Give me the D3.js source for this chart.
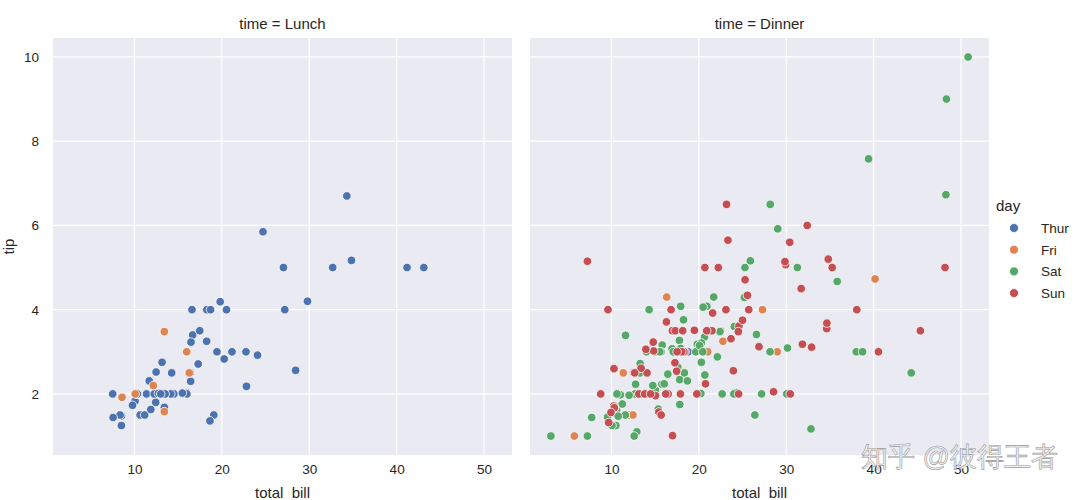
<!DOCTYPE html>
<html><head><meta charset="utf-8">
<script src="https://cdn.jsdelivr.net/npm/d3@7"></script>
<style>body{margin:0;background:#fff}text{font-family:"Liberation Sans",Arial,sans-serif}</style>
</head><body><svg id="c" width="1086" height="500"></svg>
<script>
const days = ["Thur","Fri","Sat","Sun"];
const colors = ["#4C72B0","#DD8452","#55A868","#C44E52"];
const xTicks = [10,20,30,40,50];
const yTicks = [2,4,6,8,10];
// Lunch
const lunchThurBill = [27.20,22.76,17.29,19.44,16.66,10.07,32.68,15.98,34.83,13.03,18.28,24.71,21.16,10.65,12.43,24.08,11.69,13.42,14.26,15.95,12.48,29.80,8.52,14.52,11.38,22.82,19.08,20.27,11.17,12.26,18.26,8.51,10.33,14.15,16.0,13.16,17.47,34.30,41.19,27.05,16.43,8.35,18.64,11.87,9.78,7.51,19.81,28.44,15.48,16.58,7.56,10.34,43.11,13.0,13.51,18.71,12.74,13.0,16.40,20.53,16.47];
const lunchThurTip = [4.0,3.0,2.71,3.0,3.4,1.83,5.0,2.03,5.17,2.0,4.0,5.85,3.0,1.5,1.8,2.92,2.31,1.68,2.5,2.0,2.52,4.2,1.48,2.0,2.0,2.18,1.5,2.83,1.5,2.0,3.25,1.25,2.0,2.0,2.0,2.75,3.5,6.7,5.0,5.0,2.3,1.5,1.36,1.63,1.73,2.0,4.19,2.56,2.02,4.0,1.44,2.0,5.0,2.0,2.0,4.0,2.01,2.0,2.5,4.0,3.23];
const lunchFriBill = [12.16,13.42,8.58,15.98,13.42,16.27,10.09];
const lunchFriTip = [2.2,3.48,1.92,3.0,1.58,2.5,2.0];
// Dinner
const dinnerThurBill = [18.78];
const dinnerThurTip = [3.0];
const dinnerFriBill = [28.97,22.49,5.75,16.32,22.75,40.17,27.28,12.03,21.01,12.46,11.35,15.38];
const dinnerFriTip = [3.0,3.5,1.0,4.3,3.25,4.73,4.0,1.5,3.0,1.5,2.5,3.0];
const dinnerSatBill = [20.65,17.92,20.29,15.77,39.42,19.82,17.81,13.37,12.69,21.70,19.65,9.55,18.35,15.06,20.69,17.78,24.06,16.31,16.93,18.69,31.27,16.04,38.01,26.41,11.24,48.27,20.29,13.81,11.02,18.29,17.59,20.08,16.45,3.07,20.23,15.01,12.02,17.07,26.86,25.28,14.73,10.51,17.92,44.30,22.42,20.92,15.36,20.49,25.21,18.24,14.31,14.0,7.25,10.59,10.63,50.81,15.81,26.59,38.73,24.27,12.76,30.06,25.89,48.33,13.27,28.17,12.90,28.15,11.59,7.74,30.14,20.45,13.28,22.12,24.01,15.69,11.61,10.77,15.53,10.07,12.60,32.83,35.83,29.03,27.18,22.67,17.82];
const dinnerSatTip = [3.35,4.08,2.75,2.23,7.58,3.18,2.34,2.0,2.0,4.3,3.0,1.45,2.5,3.0,2.45,3.27,3.6,2.0,3.07,2.31,5.0,2.24,3.0,1.5,1.76,6.73,3.21,2.0,1.98,3.76,2.64,3.15,2.47,1.0,2.01,2.09,1.97,3.0,3.14,5.0,2.2,1.25,3.08,2.5,3.48,4.08,1.64,4.06,4.29,3.76,4.0,3.0,1.0,1.61,2.0,10.0,3.16,3.41,3.0,2.03,2.23,2.0,5.16,9.0,2.5,6.5,1.1,3.0,1.5,1.44,3.09,3.0,2.72,2.88,2.0,3.0,3.39,1.47,3.0,1.25,1.0,1.17,4.67,5.92,2.0,2.0,1.75];
const dinnerSunBill = [16.99,10.34,21.01,23.68,24.59,25.29,8.77,26.88,15.04,14.78,10.27,35.26,15.42,18.43,14.83,21.58,10.33,16.29,16.97,17.46,13.94,9.68,30.40,18.29,22.23,32.40,28.55,18.04,12.54,10.29,34.81,9.94,25.56,19.49,38.07,23.95,25.71,17.31,29.93,14.07,13.13,17.26,24.55,19.77,29.85,48.17,25.0,13.39,16.49,21.50,12.66,16.21,13.81,17.51,24.52,20.76,31.71,7.25,31.85,16.82,32.90,17.89,14.48,9.60,34.63,34.65,23.33,45.35,23.17,40.55,20.69,20.90,30.46,18.15,23.10,15.69];
const dinnerSunTip = [1.01,1.66,3.5,3.31,3.61,4.71,2.0,3.12,1.96,3.23,1.71,5.0,1.57,3.0,3.02,3.92,1.67,3.71,3.5,2.54,3.06,1.32,5.6,3.0,5.0,6.0,2.05,3.0,2.5,2.6,5.2,1.56,4.34,3.51,4.0,2.55,4.0,3.5,5.07,2.5,2.0,2.74,2.0,2.0,5.14,5.0,3.75,2.61,2.0,3.5,2.5,2.0,2.0,3.0,3.48,2.24,4.5,5.15,3.18,4.0,3.11,2.0,2.0,4.0,3.55,3.68,5.65,3.5,6.5,3.0,5.0,3.5,2.0,3.5,4.0,1.5];

const panels = [
  {title:"time = Lunch", x0:53, series:[[lunchThurBill,lunchThurTip,0],[lunchFriBill,lunchFriTip,1]]},
  {title:"time = Dinner", x0:530, series:[[dinnerThurBill,dinnerThurTip,0],[dinnerFriBill,dinnerFriTip,1],[dinnerSatBill,dinnerSatTip,2],[dinnerSunBill,dinnerSunTip,3]]}
];
const svg = d3.select("#c");
const W = 459, pTop = 38, pBot = 455;
const y = d3.scaleLinear().domain([0.55,10.45]).range([pBot,pTop]);
panels.forEach((p,pi)=>{
  const x = d3.scaleLinear().domain([0.68,53.2]).range([p.x0,p.x0+W]);
  const g = svg.append("g");
  g.append("rect").attr("x",p.x0).attr("y",pTop).attr("width",W).attr("height",pBot-pTop).attr("fill","#EAEAF2");
  g.selectAll(".gx").data(xTicks).join("line").attr("x1",d=>x(d)).attr("x2",d=>x(d)).attr("y1",pTop).attr("y2",pBot).attr("stroke","#fff").attr("stroke-width",1.2);
  g.selectAll(".gy").data(yTicks).join("line").attr("y1",d=>y(d)).attr("y2",d=>y(d)).attr("x1",p.x0).attr("x2",p.x0+W).attr("stroke","#fff").attr("stroke-width",1.2);
  const ax = g.append("g").attr("transform",`translate(0,${pBot})`).call(d3.axisBottom(x).tickValues(xTicks).tickSize(0).tickPadding(9));
  ax.select(".domain").remove();
  ax.selectAll("text").attr("font-size",13.5).attr("fill","#262626").attr("font-family","Liberation Sans, Arial, sans-serif");
  if(pi===0){
    const ay = g.append("g").attr("transform",`translate(${p.x0},0)`).call(d3.axisLeft(y).tickValues(yTicks).tickSize(0).tickPadding(14));
    ay.select(".domain").remove();
    ay.selectAll("text").attr("font-size",13.5).attr("fill","#262626").attr("font-family","Liberation Sans, Arial, sans-serif");
    g.append("text").attr("transform",`translate(14,${(pTop+pBot)/2}) rotate(-90)`).attr("text-anchor","middle").attr("font-size",15).attr("fill","#262626").text("tip");
  }
  g.append("text").attr("x",p.x0+W/2).attr("y",29).attr("text-anchor","middle").attr("font-size",15).attr("fill","#262626").text(p.title);
  g.append("text").attr("x",p.x0+W/2).attr("y",498).attr("text-anchor","middle").attr("font-size",15).attr("fill","#262626").text("total_bill");
  p.series.forEach(([bx,ty,ci])=>{
    g.selectAll(null).data(bx.map((b,i)=>[b,ty[i]])).join("circle")
      .attr("cx",d=>x(d[0])).attr("cy",d=>y(d[1])).attr("r",4.3)
      .attr("fill",colors[ci]).attr("stroke","#fff").attr("stroke-width",0.8);
  });
});
const lg = svg.append("g");
lg.append("text").attr("x",996).attr("y",211).attr("font-size",15).attr("fill","#262626").text("day");
days.forEach((d,i)=>{
  lg.append("circle").attr("cx",1014).attr("cy",228+i*21.7).attr("r",4.5).attr("fill",colors[i]).attr("stroke","#fff").attr("stroke-width",0.8);
  lg.append("text").attr("x",1041).attr("y",233+i*21.7).attr("font-size",13.5).attr("fill","#262626").text(d);
});
svg.append("text").attr("x",1058).attr("y",466).attr("text-anchor","end").attr("font-size",27)
  .attr("font-family","Noto Sans CJK SC").attr("fill","#f4f4f4").attr("stroke","#9a9a9a").attr("stroke-width",0.6).text("知乎 @彼得王者");
</script></body></html>
